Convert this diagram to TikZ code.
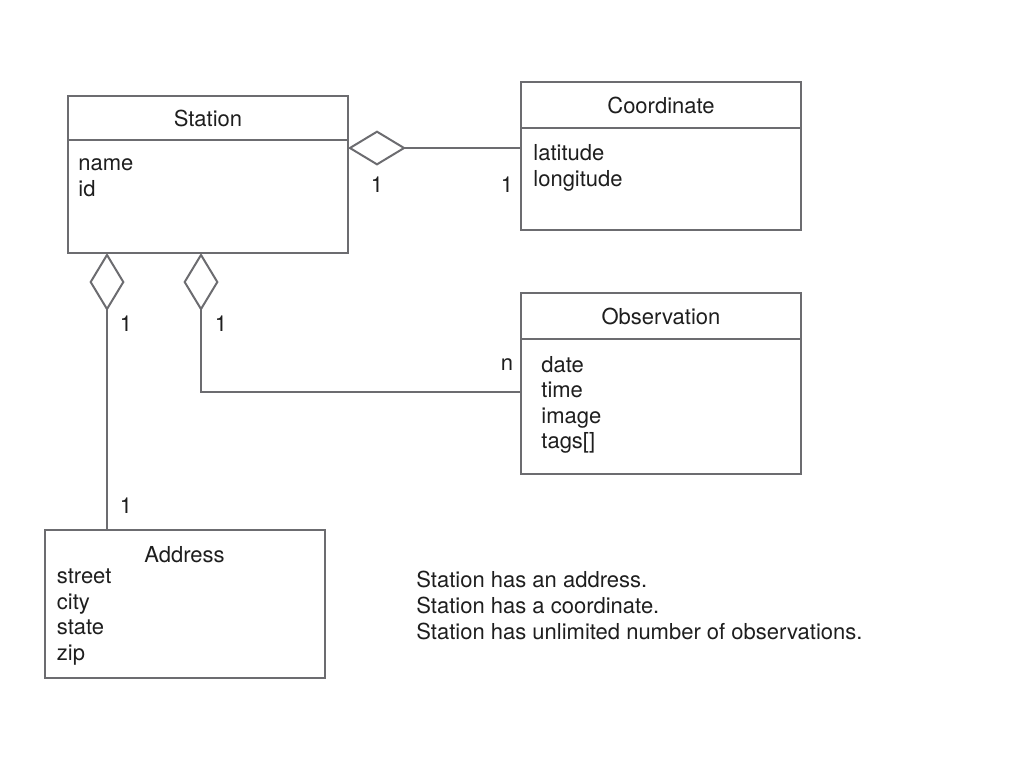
\documentclass[tikz,border=0pt]{standalone}
\usepackage{fontspec}
\setmainfont{TeX Gyre Heros}
\usepackage{xcolor}
\usetikzlibrary{positioning,arrows.meta}

\definecolor{umlline}{RGB}{108,108,112}
\definecolor{umltext}{RGB}{30,30,30}

\begin{document}
\begin{tikzpicture}[
        x=0.5pt, y=-0.5pt,
        font=\fontsize{11}{12.75}\selectfont, text=umltext,
        head/.style={rectangle, draw=umlline, line width=1pt, outer sep=0pt, minimum width=140pt},
        body/.style={rectangle, draw=umlline, line width=1pt, outer sep=0pt, minimum width=140pt},
        attrs/.style={anchor=north west, align=left, inner sep=0pt, execute at begin node=\strut},
        mult/.style={inner sep=0pt},
        agg/.style={{Diamond[open, length=29pt, width=17.5pt]}-, draw=umlline, line width=1pt}
    ]
        \useasboundingbox (0,0) rectangle (1024,768);

        % Classes
        \node[head, minimum height=22pt] (stationhead) at (208,118) {Station};
        \node[body, minimum height=56.5pt, below=0pt of stationhead] (station) {};
        \node[attrs] (stationattrs) at ([xshift=5pt, yshift=-9.25pt]station.north west) {name\\id};

        \node[head, minimum height=23pt] (coordhead) at (661,105) {Coordinate};
        \node[body, minimum height=51pt, below=0pt of coordhead] (coord) {};
        \node[attrs] (coordattrs) at ([xshift=6pt, yshift=-8.25pt]coord.north west) {latitude\\longitude};

        \node[head, minimum height=23pt] (obshead) at (661,316) {Observation};
        \node[body, minimum height=67.5pt, below=0pt of obshead] (obs) {};
        \node[attrs] (obsattrs) at ([xshift=10pt, yshift=-8.5pt]obs.north west) {date\\time\\image\\tags[]};

        \node[body, minimum height=74pt] (address) at (184.5,604) {};
        \node[anchor=base, inner sep=0pt] (addresstitle) at ([yshift=-16pt]address.north) {Address};
        \node[attrs] (addressattrs) at ([xshift=6pt, yshift=-19.25pt]address.north west) {street\\city\\state\\zip};

        % Aggregations
        \draw[agg] ([yshift=-4pt]station.north east) -- ([yshift=-4pt]station.north east -| coord.west);
        \draw[agg] ([xshift=19.5pt]station.south west) -- ([xshift=19.5pt]station.south west |- address.north);
        \draw[agg] ([xshift=66.5pt]station.south west) |- ([yshift=7.25pt]obs.west);

        % Multiplicities
        \node[mult] (m1) at (377,185) {1};
        \node[mult] (m2) at (507,185) {1};
        \node[mult] (m3) at (126,324) {1};
        \node[mult] (m4) at (126,506) {1};
        \node[mult] (m5) at (221,324) {1};
        \node[mult] (m6) at (507,365) {n};

        % Notes
        \node[anchor=north west, align=left, inner sep=0pt, execute at begin node=\strut,
              font=\fontsize{11}{13}\selectfont] (notes) at (416,571)
            {Station has an address.\\Station has a coordinate.\\Station has unlimited number of observations.};

    \end{tikzpicture}
\end{document}
